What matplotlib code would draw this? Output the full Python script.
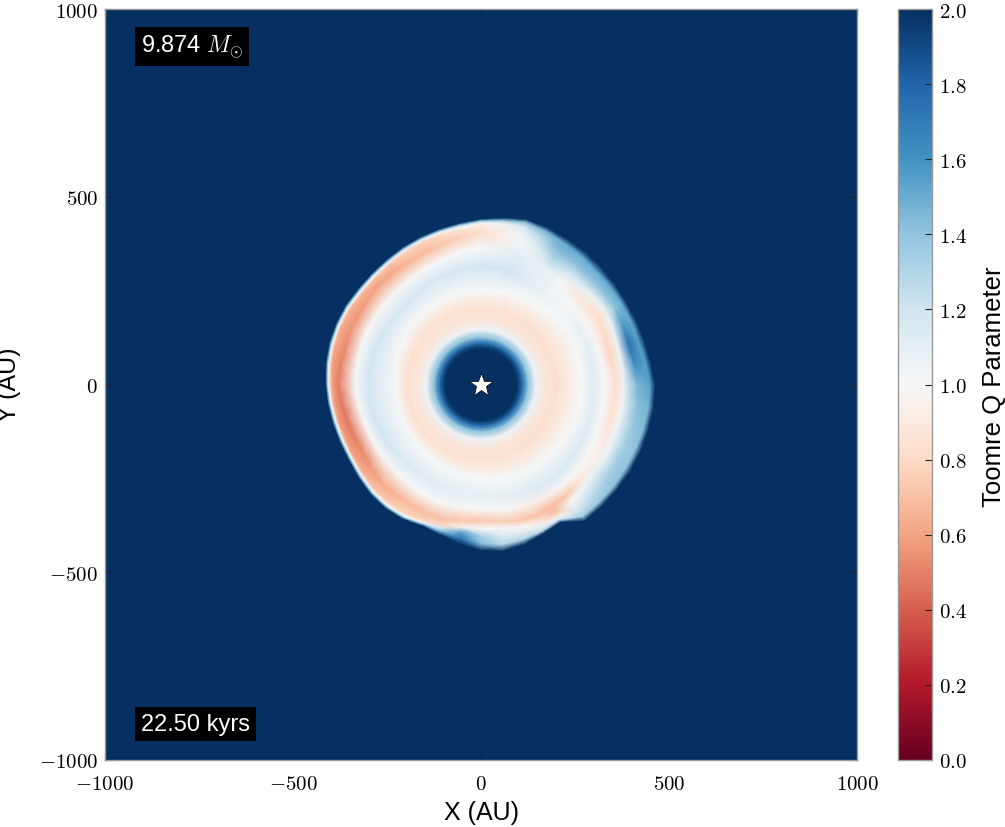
import numpy as np
import matplotlib
matplotlib.use('Agg')
import matplotlib.pyplot as plt

plt.rcParams['font.family'] = ['Liberation Sans', 'DejaVu Sans']
plt.rcParams['mathtext.fontset'] = 'cm'

# polar samples of Q, radius in AU, one row per 7.5 degrees
angles = [i * 7.5 for i in range(48)]

# inner part of the disc is almost the same at every angle
inner_r = [0, 95, 110, 125, 145, 170, 200]
inner_q = [2.0, 2.0, 1.75, 1.4, 1.05, 0.88, 0.84]

# rings further out: last radius is the disc edge
outer_r = [
    [268, 300, 330, 357, 380, 415, 450, 463],
    [268, 300, 328, 354, 379, 412, 442, 455],
    [268, 300, 325, 350, 378, 407, 435, 450],
    [272, 300, 325, 355, 381, 408, 433, 446],
    [275, 300, 325, 360, 385, 410, 432, 444],
    [268, 295, 322, 352, 380, 408, 431, 445],
    [262, 290, 320, 345, 375, 405, 430, 447],
    [260, 292, 325, 350, 380, 410, 434, 449],
    [258, 295, 330, 355, 385, 415, 437, 450],
    [256, 302, 340, 370, 398, 425, 443, 454],
    [255, 310, 350, 385, 410, 435, 448, 456],
    [252, 313, 358, 395, 415, 433, 441, 447],
    [250, 315, 365, 405, 420, 430, 436, 440],
    [250, 312, 358, 397, 412, 423, 429, 433],
    [250, 310, 350, 388, 412, 420, 424, 428],
    [249, 305, 345, 383, 408, 416, 420, 424],
    [248, 300, 340, 378, 404, 412, 416, 420],
    [246, 295, 337, 379, 400, 408, 412, 416],
    [245, 290, 335, 380, 398, 406, 410, 414],
    [242, 292, 335, 377, 398, 406, 410, 414],
    [238, 295, 335, 375, 401, 409, 413, 417],
    [234, 297, 335, 375, 402, 410, 414, 418],
    [230, 298, 335, 375, 402, 410, 414, 418],
    [227, 300, 335, 377, 400, 408, 412, 416],
    [225, 303, 335, 380, 397, 405, 409, 413],
    [225, 302, 332, 374, 394, 402, 406, 410],
    [226, 300, 328, 368, 391, 399, 403, 407],
    [227, 298, 326, 364, 389, 397, 401, 405],
    [228, 295, 325, 362, 389, 397, 401, 405],
    [230, 292, 325, 367, 393, 401, 405, 409],
    [232, 290, 325, 372, 398, 406, 410, 414],
    [235, 290, 327, 371, 400, 408, 412, 416],
    [238, 290, 330, 370, 398, 406, 410, 414],
    [241, 293, 333, 373, 391, 399, 403, 407],
    [243, 295, 333, 372, 388, 398, 408, 415],
    [245, 295, 330, 365, 383, 398, 415, 428],
    [248, 298, 332, 362, 385, 402, 425, 442],
    [253, 302, 337, 367, 386, 407, 431, 447],
    [256, 307, 342, 375, 393, 410, 428, 441],
    [258, 311, 345, 380, 396, 411, 423, 430],
    [260, 315, 345, 375, 395, 408, 416, 423],
    [262, 318, 345, 372, 392, 425, 444, 456],
    [264, 314, 343, 367, 388, 422, 444, 456],
    [265, 310, 340, 361, 384, 419, 445, 457],
    [267, 307, 336, 359, 382, 416, 445, 459],
    [268, 305, 333, 358, 380, 416, 446, 460],
    [268, 303, 331, 357, 379, 418, 448, 461],
    [268, 301, 330, 357, 379, 419, 450, 463],
]
outer_q = [
    [1.0, 1.12, 1.00, 0.83, 1.05, 1.45, 1.55, 2.0],
    [1.0, 1.12, 1.00, 0.80, 1.05, 1.62, 1.55, 2.0],
    [1.0, 1.12, 1.00, 0.78, 1.05, 1.75, 1.55, 2.0],
    [1.0, 1.10, 0.99, 0.80, 1.05, 1.58, 1.52, 2.0],
    [1.0, 1.08, 0.98, 0.82, 1.05, 1.40, 1.50, 2.0],
    [1.0, 1.06, 0.99, 0.87, 1.07, 1.40, 1.50, 2.0],
    [1.0, 1.05, 1.00, 0.92, 1.10, 1.40, 1.50, 2.0],
    [1.0, 1.06, 1.04, 1.00, 1.20, 1.42, 1.50, 2.0],
    [1.0, 1.08, 1.08, 1.10, 1.30, 1.45, 1.50, 2.0],
    [1.0, 1.13, 1.10, 1.08, 1.15, 1.30, 1.45, 2.0],
    [1.0, 1.18, 1.12, 1.05, 1.02, 1.15, 1.40, 2.0],
    [1.0, 1.18, 1.06, 0.92, 0.92, 1.05, 1.40, 2.0],
    [1.0, 1.18, 1.00, 0.82, 0.88, 1.00, 1.40, 2.0],
    [1.0, 1.17, 1.00, 0.76, 0.84, 1.02, 1.40, 2.0],
    [1.0, 1.17, 1.00, 0.72, 0.80, 1.05, 1.40, 2.0],
    [1.0, 1.17, 1.00, 0.69, 0.77, 1.05, 1.40, 2.0],
    [1.0, 1.17, 1.00, 0.66, 0.75, 1.05, 1.40, 2.0],
    [1.0, 1.17, 1.00, 0.63, 0.71, 1.02, 1.40, 2.0],
    [1.0, 1.17, 1.00, 0.60, 0.68, 1.00, 1.40, 2.0],
    [1.0, 1.17, 1.00, 0.58, 0.66, 1.00, 1.40, 2.0],
    [1.0, 1.17, 1.00, 0.57, 0.65, 1.00, 1.40, 2.0],
    [1.0, 1.18, 1.00, 0.55, 0.63, 1.00, 1.40, 2.0],
    [1.0, 1.18, 1.00, 0.52, 0.62, 1.00, 1.40, 2.0],
    [1.0, 1.18, 1.00, 0.50, 0.60, 0.98, 1.35, 2.0],
    [1.0, 1.18, 1.00, 0.48, 0.60, 0.95, 1.30, 2.0],
    [1.0, 1.18, 1.00, 0.47, 0.59, 0.98, 1.35, 2.0],
    [1.0, 1.18, 1.00, 0.47, 0.58, 1.00, 1.40, 2.0],
    [1.0, 1.18, 1.00, 0.49, 0.59, 1.00, 1.40, 2.0],
    [1.0, 1.18, 1.00, 0.52, 0.60, 1.00, 1.40, 2.0],
    [1.0, 1.17, 1.00, 0.57, 0.66, 1.00, 1.40, 2.0],
    [1.0, 1.15, 1.00, 0.62, 0.72, 1.00, 1.40, 2.0],
    [1.0, 1.13, 1.00, 0.65, 0.75, 1.00, 1.40, 2.0],
    [1.0, 1.12, 1.00, 0.68, 0.78, 1.00, 1.40, 2.0],
    [1.0, 1.11, 1.00, 0.70, 0.77, 0.97, 1.35, 2.0],
    [1.0, 1.10, 1.00, 0.71, 0.80, 1.20, 1.55, 2.0],
    [1.0, 1.10, 1.00, 0.72, 0.95, 1.55, 1.75, 2.0],
    [1.0, 1.09, 1.00, 0.73, 1.00, 1.30, 1.45, 2.0],
    [1.0, 1.08, 1.00, 0.75, 1.00, 1.15, 1.30, 2.0],
    [1.0, 1.10, 0.97, 0.73, 0.97, 1.12, 1.30, 2.0],
    [1.0, 1.13, 0.95, 0.71, 0.90, 1.05, 1.28, 2.0],
    [1.0, 1.15, 0.95, 0.68, 0.70, 0.95, 1.20, 2.0],
    [1.0, 1.15, 1.00, 0.72, 1.00, 1.20, 1.35, 2.0],
    [1.0, 1.15, 1.00, 0.85, 1.05, 1.28, 1.38, 2.0],
    [1.0, 1.15, 1.00, 0.95, 1.10, 1.35, 1.40, 2.0],
    [1.0, 1.14, 1.00, 0.93, 1.06, 1.35, 1.40, 2.0],
    [1.0, 1.13, 1.00, 0.90, 1.05, 1.35, 1.40, 2.0],
    [1.0, 1.12, 1.00, 0.85, 1.03, 1.38, 1.43, 2.0],
    [1.0, 1.12, 1.00, 0.83, 1.03, 1.42, 1.47, 2.0],
]

ticks = [-1000, -500, 0, 500, 1000]
cbar_ticks = [0.0, 0.2, 0.4, 0.6, 0.8, 1.0, 1.2, 1.4, 1.6, 1.8, 2.0]
mass_label = r'9.874 $M_{\odot}$'
time_label = '22.50 kyrs'

W, H = 1005, 828
fig = plt.figure(figsize=(W / 100, H / 100), dpi=100)
ax = fig.add_axes([105 / W, 1 - 761 / H, 752 / W, 751 / H])
cax = fig.add_axes([898 / W, 1 - 761 / H, 34 / W, 751 / H])

cmap = plt.get_cmap('RdBu')
ax.set_facecolor(cmap(1.0))

# inner disc: same profile all the way round
th_in = np.linspace(0, 2 * np.pi, 181)
r_in = np.array(inner_r, dtype=float)
q_in = np.tile(inner_q, (len(th_in), 1))
ax.pcolormesh(np.outer(np.cos(th_in), r_in), np.outer(np.sin(th_in), r_in), q_in,
              cmap=cmap, vmin=0, vmax=2, shading='gouraud')

# outer disc: close the polar mesh by repeating the first angle
th = np.deg2rad(np.array(angles + [angles[0] + 360]))
r_tab = np.array([inner_r[-1:] + row for row in outer_r + [outer_r[0]]], dtype=float)
q_tab = np.array([inner_q[-1:] + row for row in outer_q + [outer_q[0]]], dtype=float)
xx = r_tab * np.cos(th)[:, None]
yy = r_tab * np.sin(th)[:, None]
mesh = ax.pcolormesh(xx, yy, q_tab, cmap=cmap, vmin=0, vmax=2, shading='gouraud')

ax.plot([0], [0], marker='*', ms=18, mfc='white', mec='black', mew=0.5, zorder=5)

ax.set_xlim(-1000, 1000)
ax.set_ylim(-1000, 1000)
ax.set_xticks(ticks)
ax.set_yticks(ticks)
ax.set_xticklabels([f'${t}$' for t in ticks], fontsize=15)
ax.set_yticklabels([f'${t}$' for t in ticks], fontsize=15)
ax.tick_params(direction='in', length=5, width=0.8, color='#222222', top=True, right=True, pad=5)
ax.tick_params(axis='x', pad=10)
for s in ax.spines.values():
    s.set_color('#9a9a9a')
    s.set_linewidth(1.0)

fig.text(481 / W, 1 - 813 / H, 'X (AU)', fontsize=18, ha='center', va='center')
fig.text(9 / W, 1 - 385 / H, 'Y (AU)', fontsize=18, ha='center', va='center', rotation=90)

box = dict(facecolor='black', edgecolor='none', boxstyle='square,pad=0.25')
ax.text(-905, 900, mass_label, color='white', fontsize=17, va='center', ha='left', bbox=box)
ax.text(-905, -905, time_label, color='white', fontsize=17, va='center', ha='left', bbox=box)

cb = fig.colorbar(mesh, cax=cax, ticks=cbar_ticks)
cb.ax.set_yticklabels([f'${t:.1f}$' for t in cbar_ticks], fontsize=15)
cb.ax.tick_params(direction='in', length=5, width=0.8, color='#222222', pad=5)
cb.outline.set_edgecolor('#9a9a9a')
cb.outline.set_linewidth(1.0)
fig.text(994 / W, 1 - 387 / H, 'Toomre Q Parameter', fontsize=18.5, ha='center', va='center', rotation=90)

fig.savefig('out.png', dpi=100)
